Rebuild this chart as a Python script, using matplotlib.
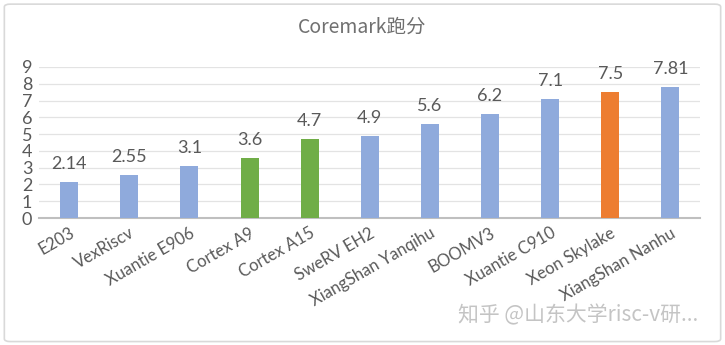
import matplotlib.pyplot as plt
import matplotlib.patches as patches

cores = ["E203", "VexRiscv", "Xuantie E906", "Cortex A9", "Cortex A15",
         "SweRV EH2", "XiangShan Yanqihu", "BOOMV3", "Xuantie C910",
         "Xeon Skylake", "XiangShan Nanhu"]
scores = [2.14, 2.55, 3.1, 3.6, 4.7, 4.9, 5.6, 6.2, 7.1, 7.5, 7.81]
score_labels = ["2.14", "2.55", "3.1", "3.6", "4.7", "4.9", "5.6", "6.2", "7.1", "7.5", "7.81"]
groups = ["rv", "rv", "rv", "arm", "arm", "rv", "rv", "rv", "rv", "x86", "rv"]

palette = {"rv": "#8faadc", "arm": "#70ad47", "x86": "#ed7d31"}
grey = "#595959"
thin = ["Lato", "DejaVu Sans"]

plt.rcParams['font.family'] = ['Noto Sans CJK SC', 'DejaVu Sans']

fig = plt.figure(figsize=(7.25, 3.45), dpi=100)
ax = fig.add_axes([0.054, 0.368, 0.912, 0.438])

# outer frame
fig.patches.append(patches.FancyBboxPatch(
    (0.006, 0.01), 0.988, 0.978, boxstyle="round,pad=0,rounding_size=0.008",
    transform=fig.transFigure, facecolor="none", edgecolor="#d9d9d9", lw=1.2))

x = range(len(cores))
bars = ax.bar(x, scores, width=0.3, color=[palette[g] for g in groups], zorder=3)
for b, lab in zip(bars, score_labels):
    ax.text(b.get_x() + b.get_width() / 2, b.get_height() + 0.6, lab,
            ha="center", va="bottom", fontsize=13, color=grey, family=thin)

ax.set_xlim(-0.5, len(cores) - 0.5)
ax.set_ylim(0, 9)
ax.set_yticks(range(10))
ax.yaxis.grid(True, color="#e3e3e3", lw=0.9, zorder=0)
for s in ["top", "right", "left"]:
    ax.spines[s].set_visible(False)
ax.spines["bottom"].set_color("#bfbfbf")
ax.spines["bottom"].set_linewidth(1.5)
ax.tick_params(length=0, pad=5)
ax.set_yticklabels([str(i) for i in range(10)], fontsize=13, color=grey, family=thin)
ax.set_xticks(list(x))
ax.set_xticklabels(cores, rotation=30, ha="right", rotation_mode="anchor",
                   fontsize=12, color=grey, family=thin)

fig.text(0.5, 0.92, "Coremark跑分", ha="center", va="center", fontsize=14,
         color="#707070")
fig.text(0.632, 0.085, "知乎 @山东大学risc-v研...", ha="left", va="center",
         fontsize=15, color="#c4c4c4")

fig.savefig("out.png", dpi=100)
